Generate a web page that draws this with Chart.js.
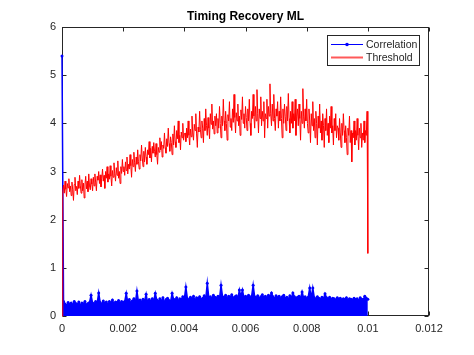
<!DOCTYPE html>
<html>
<head>
<meta charset="utf-8">
<script src="https://cdn.jsdelivr.net/npm/chart.js@4/dist/chart.umd.min.js"></script>
<style>
html,body{margin:0;padding:0;background:#fff;}
#c{display:block;}
</style>
</head>
<body>
<canvas id="c" width="474" height="355"></canvas>
<script>
// ---- data ----
const TITLE = 'Timing Recovery ML';
const SERIES_NAMES = ['Correlation', 'Threshold'];
const SERIES_COLORS = ['#0000ff', '#ff0000'];
const T_END = 0.01;                   // last sample time (s)
const X_TICKS = [0, 0.002, 0.004, 0.006, 0.008, 0.01, 0.012];
const X_TICK_LABELS = ['0', '0.002', '0.004', '0.006', '0.008', '0.01', '0.012'];
const Y_TICKS = [0, 1, 2, 3, 4, 5, 6];
const Y_TICK_LABELS = ['0', '1', '2', '3', '4', '5', '6'];

const threshold = [0,
2.6, 2.72, 2.55, 2.8, 2.63, 2.48, 2.75, 2.66, 2.85, 2.58, 2.7, 2.5, 2.78, 2.62, 2.4, 2.73, 2.88, 2.6, 2.69, 2.52,
2.8, 2.65, 2.92, 2.7, 2.55, 2.83, 2.6, 2.76, 2.45, 2.72, 2.9, 2.64, 2.8, 2.58, 2.95, 2.7, 2.62, 2.85, 2.74, 2.6,
2.88, 2.7, 2.95, 2.78, 2.6, 2.9, 2.82, 3.0, 2.75, 2.93, 2.68, 2.85, 3.05, 2.8, 2.92, 2.65, 3.0, 2.86, 3.1, 2.78,
2.95, 2.84, 3.12, 2.9, 2.7, 3.02, 2.88, 3.18, 2.95, 2.8, 3.08, 2.92, 3.22, 2.86, 3.0, 2.75, 3.1, 2.96, 3.25, 3.0,
3.1, 2.92, 3.2, 3.02, 3.3, 2.95, 3.15, 3.05, 3.35, 3.12, 2.88, 3.25, 3.1, 3.4, 3.18, 3.0, 3.3, 3.15, 3.45, 3.2,
3.05, 3.35, 3.22, 3.55, 3.28, 3.1, 3.42, 3.2, 3.5, 3.3, 3.15, 3.45, 3.35, 3.62, 3.28, 3.48, 3.2, 3.52, 3.38, 3.6,
3.42, 3.3, 3.58, 3.35, 3.15, 3.5, 3.4, 3.7, 3.45, 3.62, 3.3, 3.55, 3.48, 3.8, 3.5, 3.38, 3.68, 3.52, 3.9, 3.58,
3.42, 3.72, 3.6, 3.35, 3.78, 3.55, 3.95, 3.62, 3.5, 3.85, 3.68, 4.05, 3.6, 3.75, 3.45, 3.82, 3.7, 4.0, 3.65, 3.78,
3.8, 3.62, 3.9, 3.7, 4.05, 3.75, 3.55, 3.88, 3.72, 4.15, 3.8, 3.65, 3.98, 3.85, 4.2, 3.78, 3.5, 3.92, 3.82, 4.25,
3.88, 3.7, 4.05, 3.9, 3.6, 4.1, 3.85, 4.3, 3.95, 3.75, 4.12, 3.9, 3.68, 4.2, 3.98, 4.4, 3.88, 4.05, 3.78, 4.15,
3.95, 4.2, 3.8, 4.1, 3.9, 4.35, 4.0, 3.7, 4.15, 3.95, 4.5, 4.05, 3.85, 4.25, 4.0, 3.65, 4.18, 4.05, 4.45, 3.92,
4.1, 3.85, 4.3, 4.02, 4.6, 4.12, 3.8, 4.22, 4.05, 4.4, 3.95, 4.15, 3.75, 4.28, 4.08, 4.55, 4.0, 4.2, 3.9, 4.35,
4.12, 3.85, 4.3, 4.05, 4.5, 4.0, 3.75, 4.25, 4.1, 4.6, 4.15, 3.9, 4.35, 4.05, 4.7, 4.2, 3.8, 4.3, 4.1, 4.55,
3.95, 4.25, 4.05, 4.45, 3.7, 4.2, 4.1, 4.5, 3.9, 4.35, 4.15, 4.82, 4.2, 3.95, 4.4, 4.05, 4.6, 4.1, 3.85, 4.3,
4.15, 4.45, 3.9, 4.25, 4.05, 4.55, 4.1, 3.7, 4.3, 4.0, 4.4, 4.15, 3.85, 4.35, 4.05, 4.62, 4.1, 3.8, 4.25, 4.0,
4.45, 3.9, 4.2, 4.05, 4.5, 3.75, 4.15, 4.3, 3.95, 4.4, 4.1, 3.65, 4.25, 4.0, 4.72, 4.15, 3.9, 4.3, 4.05, 4.5,
4.0, 3.8, 4.3, 4.05, 3.6, 4.2, 3.95, 4.45, 3.85, 4.1, 3.7, 4.25, 4.0, 3.55, 4.15, 3.9, 4.4, 3.8, 4.05, 3.65,
4.2, 3.95, 3.5, 4.1, 3.85, 4.3, 3.75, 4.0, 3.6, 4.15, 3.9, 4.35, 3.8, 3.95, 3.55, 4.1, 3.85, 4.2, 3.7, 3.95,
3.9, 3.65, 4.1, 3.8, 3.5, 4.0, 3.75, 4.2, 3.85, 3.6, 3.95, 3.7, 3.35, 3.9, 3.75, 4.15, 3.6, 3.85, 3.2, 3.8,
3.7, 4.05, 3.55, 3.85, 3.65, 4.1, 3.75, 3.45, 3.9, 3.7, 4.0, 3.5, 3.8, 3.65, 4.05, 3.6, 3.85, 3.75, 4.25, 1.3];

const correlation = [5.4,
0.3, 0.25, 0.22, 0.28, 0.24, 0.27, 0.23, 0.3, 0.26, 0.24, 0.29, 0.22, 0.27, 0.25, 0.3, 0.23, 0.26, 0.28, 0.43, 0.27,
0.25, 0.3, 0.27, 0.48, 0.28, 0.24, 0.31, 0.26, 0.29, 0.23, 0.3, 0.27, 0.33, 0.25, 0.29, 0.28, 0.32, 0.26, 0.3, 0.28,
0.3, 0.47, 0.29, 0.34, 0.27, 0.31, 0.36, 0.28, 0.52, 0.3, 0.33, 0.29, 0.35, 0.31, 0.45, 0.28, 0.34, 0.3, 0.36, 0.32,
0.47, 0.33, 0.3, 0.36, 0.31, 0.38, 0.29, 0.34, 0.37, 0.32, 0.3, 0.47, 0.35, 0.33, 0.38, 0.31, 0.36, 0.34, 0.4, 0.35,
0.6, 0.36, 0.33, 0.39, 0.35, 0.41, 0.32, 0.38, 0.36, 0.4, 0.34, 0.37, 0.42, 0.35, 0.68, 0.38, 0.4, 0.36, 0.43, 0.39,
0.37, 0.41, 0.36, 0.64, 0.4, 0.38, 0.43, 0.35, 0.41, 0.39, 0.44, 0.37, 0.4, 0.42, 0.36, 0.54, 0.4, 0.54, 0.38, 0.41,
0.39, 0.43, 0.37, 0.41, 0.64, 0.4, 0.38, 0.42, 0.36, 0.4, 0.44, 0.38, 0.41, 0.37, 0.43, 0.39, 0.48, 0.4, 0.36, 0.42,
0.38, 0.41, 0.36, 0.4, 0.43, 0.37, 0.39, 0.35, 0.42, 0.38, 0.48, 0.4, 0.36, 0.39, 0.41, 0.37, 0.5, 0.38, 0.4, 0.36,
0.39, 0.58, 0.37, 0.58, 0.38, 0.35, 0.4, 0.37, 0.34, 0.39, 0.36, 0.46, 0.38, 0.35, 0.39, 0.34, 0.37, 0.36, 0.33, 0.38,
0.35, 0.37, 0.33, 0.36, 0.34, 0.38, 0.32, 0.36, 0.35, 0.33, 0.37, 0.34, 0.36, 0.32, 0.38, 0.35, 0.34, 0.41, 0.37, 0.35];

// ---- build ----
const FONT = "'Liberation Sans', Arial, Helvetica, sans-serif";
const AX = '#262626';
const toXY = arr => arr.map((v, i) => ({x: i * T_END / (arr.length - 1), y: v}));

const matlabFrame = {
  id: 'matlabFrame',
  beforeDatasetsDraw(chart) {
    const ctx = chart.ctx, a = chart.chartArea;
    const xs = chart.scales.x, ys = chart.scales.y;
    const L = Math.round(a.left) + 0.5, R = Math.round(a.right) - 0.5;
    const T = Math.round(a.top) + 0.5, B = Math.round(a.bottom) - 0.5;
    ctx.save();
    ctx.strokeStyle = AX; ctx.lineWidth = 1;
    ctx.strokeRect(L, T, R - L, B - T);
    const tl = 4;
    ctx.beginPath();
    X_TICKS.forEach(v => {
      const px = Math.round(xs.getPixelForValue(v)) + 0.5;
      ctx.moveTo(px, B); ctx.lineTo(px, B - tl);
      ctx.moveTo(px, T); ctx.lineTo(px, T + tl);
    });
    Y_TICKS.forEach(v => {
      const py = Math.round(ys.getPixelForValue(v)) + 0.5;
      ctx.moveTo(L, py); ctx.lineTo(L + tl, py);
      ctx.moveTo(R, py); ctx.lineTo(R - tl, py);
    });
    ctx.stroke();
    ctx.restore();
  },
  afterDraw(chart) {
    const ctx = chart.ctx;
    ctx.save();
    // legend (inside axes, top-right)
    const bx = 327.5, by = 35.5, bw = 92, bh = 30;
    ctx.fillStyle = '#fff';
    ctx.fillRect(bx, by, bw, bh);
    ctx.strokeStyle = AX; ctx.lineWidth = 1;
    ctx.strokeRect(bx, by, bw, bh);
    const rows = [44, 57];
    chart.data.datasets.forEach((d, i) => {
      const y = rows[i];
      const col = SERIES_COLORS[i];
      ctx.fillStyle = col;
      if (i === 0) {
        ctx.fillRect(331, y, 32, 1);
        ctx.beginPath(); ctx.arc(347, y + 0.5, 1.8, 0, Math.PI * 2); ctx.fill();
      } else {
        ctx.globalAlpha = 0.65;
        ctx.fillRect(331, y - 0.5, 32, 2);
        ctx.globalAlpha = 1;
      }
      ctx.fillStyle = AX;
      ctx.font = '10.5px ' + FONT;
      ctx.textBaseline = 'middle';
      ctx.textAlign = 'left';
      ctx.fillText(d.label, 366, y + 1);
    });
    ctx.restore();
  }
};

new Chart(document.getElementById('c'), {
  type: 'scatter',
  data: {
    datasets: [
      {
        label: SERIES_NAMES[0],
        data: toXY(correlation),
        showLine: true,
        borderColor: SERIES_COLORS[0],
        backgroundColor: SERIES_COLORS[0],
        pointBackgroundColor: SERIES_COLORS[0],
        pointBorderWidth: 0,
        pointRadius: 1.5,
        borderWidth: 1.5,
        fill: 'origin',
        clip: 3,
        order: 1
      },
      {
        label: SERIES_NAMES[1],
        data: toXY(threshold),
        showLine: true,
        borderColor: SERIES_COLORS[1],
        backgroundColor: SERIES_COLORS[1],
        pointRadius: 0,
        borderWidth: 1,
        fill: false,
        clip: 3,
        order: 0
      }
    ]
  },
  options: {
    responsive: false,
    animation: false,
    devicePixelRatio: 1,
    layout: {padding: {left: 0, right: 45, top: 0, bottom: 0}},
    plugins: {
      legend: {display: false},
      tooltip: {enabled: false},
      title: {
        display: true,
        text: TITLE,
        fullSize: false,
        color: '#000',
        font: {family: FONT, size: 12, weight: 'bold', lineHeight: 1.2},
        padding: {top: 9.6, bottom: 3}
      }
    },
    scales: {
      x: {
        type: 'linear', min: 0, max: 0.012,
        afterBuildTicks: s => { s.ticks = X_TICKS.map(v => ({value: v})); },
        afterFit: s => { s.height = 39; },
        ticks: {
          color: AX, padding: 6, maxRotation: 0, autoSkip: false,
          font: {family: FONT, size: 11},
          callback: (v) => X_TICK_LABELS[X_TICKS.indexOf(v)] ?? ''
        },
        grid: {display: false, drawTicks: false},
        border: {display: false}
      },
      y: {
        type: 'linear', min: 0, max: 6,
        afterBuildTicks: s => { s.ticks = Y_TICKS.map(v => ({value: v})); },
        afterFit: s => { s.width = 62; },
        ticks: {
          color: AX, padding: 6,
          font: {family: FONT, size: 11},
          callback: (v) => Y_TICK_LABELS[Y_TICKS.indexOf(v)] ?? ''
        },
        grid: {display: false, drawTicks: false},
        border: {display: false}
      }
    }
  },
  plugins: [matlabFrame]
});
</script>
</body>
</html>
